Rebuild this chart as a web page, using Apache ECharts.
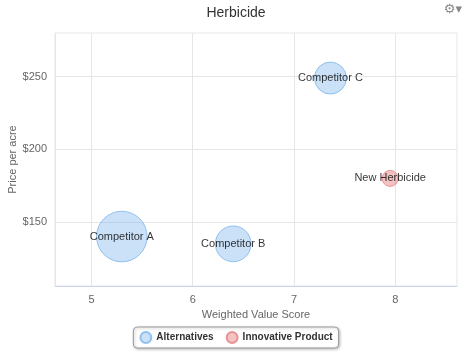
<!DOCTYPE html>
<html>
<head>
<meta charset="utf-8">
<script src="https://cdn.jsdelivr.net/npm/echarts@6/dist/echarts.min.js"></script>
<style>
  html, body { margin: 0; padding: 0; background: #fff; }
  #chart { width: 472px; height: 354px; }
</style>
</head>
<body>
<div id="chart"></div>
<script>
// bubble data
const altNames = ["Competitor A", "Competitor B", "Competitor C"];
const altScore = [5.3, 6.4, 7.36];
const altPrice = [140, 135, 249];
const altSize = [10, 5, 4];

const newNames = ["New Herbicide"];
const newScore = [7.95];
const newPrice = [180];
const newSize = [1];

const xTicks = [5, 6, 7, 8];
const yTicks = [150, 200, 250];

const font = "'Liberation Sans', Arial, sans-serif";

function toPoints(names, xs, ys, zs) {
  return names.map((n, i) => ({ name: n, value: [xs[i], ys[i], zs[i]] }));
}

// bubble width grows with the square root of the size value
const bubbleSize = v => 16 * Math.sqrt(v[2]);

const labelStyle = {
  show: true,
  position: "inside",
  formatter: p => p.name,
  color: "#000",
  fontSize: 11,
  fontFamily: font
};

const chart = echarts.init(document.getElementById("chart"));

chart.setOption({
  animation: false,
  textStyle: { fontFamily: font },
  title: {
    text: "Herbicide",
    left: "center",
    top: 1,
    textStyle: { fontSize: 14, fontWeight: "normal", color: "#333", fontFamily: font }
  },
  graphic: [{
    type: "text",
    right: 10,
    top: 3,
    style: { text: "⚙▾", fill: "#888", font: "13px 'DejaVu Sans'" }
  }],
  legend: {
    bottom: 6,
    left: "center",
    icon: "circle",
    itemWidth: 11,
    itemHeight: 11,
    itemGap: 12,
    padding: [4, 6],
    borderColor: "#999",
    borderWidth: 1,
    borderRadius: 4,
    shadowColor: "rgba(0,0,0,0.25)",
    shadowBlur: 3,
    shadowOffsetX: 1,
    shadowOffsetY: 1,
    backgroundColor: "#fff",
    textStyle: { fontSize: 10, fontWeight: "bold", color: "#333", fontFamily: font },
    data: ["Alternatives", "Innovative Product"]
  },
  grid: {
    left: 55,
    right: 15,
    top: 33,
    bottom: 68,
    outerBoundsMode: "none",
    containLabel: false,
    show: true,
    borderColor: "#e6e6e6",
    borderWidth: 1
  },
  xAxis: {
    type: "value",
    min: 4.64,
    max: 8.61,
    name: "Weighted Value Score",
    nameLocation: "middle",
    nameGap: 23,
    nameMoveOverlap: false,
    nameTextStyle: { fontSize: 11, color: "#666" },
    axisLine: { show: true, lineStyle: { color: "#ccd6eb" } },
    axisTick: { show: false, customValues: xTicks },
    axisLabel: { customValues: xTicks, color: "#666", fontSize: 11, margin: 8 },
    splitLine: { show: true, lineStyle: { color: "#e6e6e6" } }
  },
  yAxis: {
    type: "value",
    min: 106,
    max: 280,
    name: "Price per acre",
    nameLocation: "middle",
    nameGap: 37,
    nameMoveOverlap: false,
    nameTextStyle: { fontSize: 11, color: "#666" },
    axisLine: { show: true, lineStyle: { color: "#e6e6e6" } },
    axisTick: { show: false, customValues: yTicks },
    axisLabel: { customValues: yTicks, color: "#666", fontSize: 11, formatter: v => "$" + v },
    splitLine: { show: true, lineStyle: { color: "#e6e6e6" } }
  },
  series: [
    {
      name: "Alternatives",
      type: "scatter",
      symbolSize: bubbleSize,
      itemStyle: { color: "rgba(124,181,236,0.5)", borderColor: "#7cb5ec", borderWidth: 1 },
      label: labelStyle,
      data: toPoints(altNames, altScore, altPrice, altSize)
    },
    {
      name: "Innovative Product",
      type: "scatter",
      symbolSize: bubbleSize,
      itemStyle: { color: "rgba(226,106,106,0.5)", borderColor: "#e28080", borderWidth: 1 },
      label: labelStyle,
      data: toPoints(newNames, newScore, newPrice, newSize)
    }
  ]
});
</script>
</body>
</html>
